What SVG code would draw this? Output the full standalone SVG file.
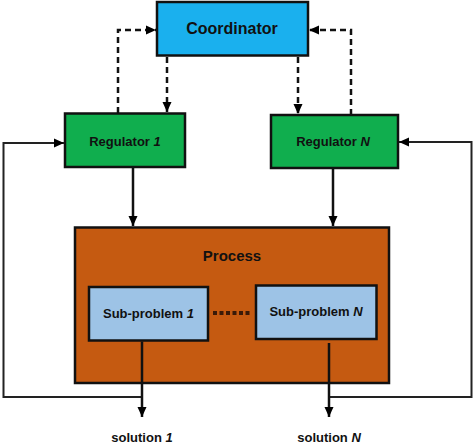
<svg xmlns="http://www.w3.org/2000/svg" width="474" height="443" viewBox="0 0 474 443">
<defs>
<marker id="ah" markerWidth="10" markerHeight="10" viewBox="0 0 10 10" refX="10" refY="5" orient="auto" markerUnits="userSpaceOnUse">
<path d="M0,0.5 L10,5 L0,9.5 z" fill="#000"/>
</marker>
<style>
.box{stroke:#111;stroke-width:2.5}
.t{font-family:"Liberation Sans",Arial,sans-serif;font-weight:bold;fill:#111;text-anchor:middle}
.c{fill:none;stroke:#111;stroke-width:2.5}
.d{fill:none;stroke:#111;stroke-width:2.5;stroke-dasharray:6,4}
.f{fill:none;stroke:#222;stroke-width:2}
</style>
</defs>
<rect width="474" height="443" fill="#fff"/>
<g id="coordinator">
<rect class="box" x="157" y="2" width="151" height="53.5" fill="#1AB0EE"/>
<text class="t" x="232" y="34" font-size="16">Coordinator</text>
</g>
<g id="regulator1">
<rect class="box" x="65" y="113.5" width="120" height="53.5" fill="#10AE4E"/>
<text class="t" x="125" y="145.5" font-size="13">Regulator <tspan font-style="italic">1</tspan></text>
</g>
<g id="regulatorN">
<rect class="box" x="271" y="115" width="127" height="53" fill="#10AE4E"/>
<text class="t" x="333" y="146" font-size="13">Regulator <tspan font-style="italic">N</tspan></text>
</g>
<g id="process">
<rect class="box" x="75" y="227.5" width="314" height="155.5" fill="#C55A11"/>
<text class="t" x="232" y="260.5" font-size="15">Process</text>
</g>
<g id="subproblem1">
<rect class="box" x="89" y="287" width="119" height="53.5" fill="#9DC3E6"/>
<text class="t" x="148.5" y="318" font-size="13">Sub-problem <tspan font-style="italic">1</tspan></text>
</g>
<g id="subproblemN">
<rect class="box" x="256" y="285.5" width="120.5" height="53.5" fill="#9DC3E6"/>
<text class="t" x="316" y="316" font-size="13">Sub-problem <tspan font-style="italic">N</tspan></text>
</g>
<g id="solution1">
<text class="t" x="142" y="441.5" font-size="13">solution <tspan font-style="italic">1</tspan></text>
</g>
<g id="solutionN">
<text class="t" x="329" y="441.5" font-size="13">solution <tspan font-style="italic">N</tspan></text>
</g>
<g id="connectors">
<path class="d" d="M118,113 V30 H156" marker-end="url(#ah)"/>
<path class="d" d="M167,57 V112" marker-end="url(#ah)"/>
<path class="d" d="M298,57 V114" marker-end="url(#ah)"/>
<path class="d" d="M351,115 V30 H309" marker-end="url(#ah)"/>
<path class="c" d="M133,168 V226" marker-end="url(#ah)"/>
<path class="c" d="M333,169 V226" marker-end="url(#ah)"/>
<path class="f" d="M142,397 H3.5 V143 H64" marker-end="url(#ah)"/>
<path class="f" d="M329,397 H471.5 V142 H399" marker-end="url(#ah)"/>
<path class="c" d="M142,341.5 V417" marker-end="url(#ah)"/>
<path class="c" d="M329,343 V417" marker-end="url(#ah)"/>
<line x1="213" y1="313" x2="250" y2="313" stroke="#3A1A08" stroke-width="4" stroke-dasharray="4,2.5"/>
</g>
</svg>
